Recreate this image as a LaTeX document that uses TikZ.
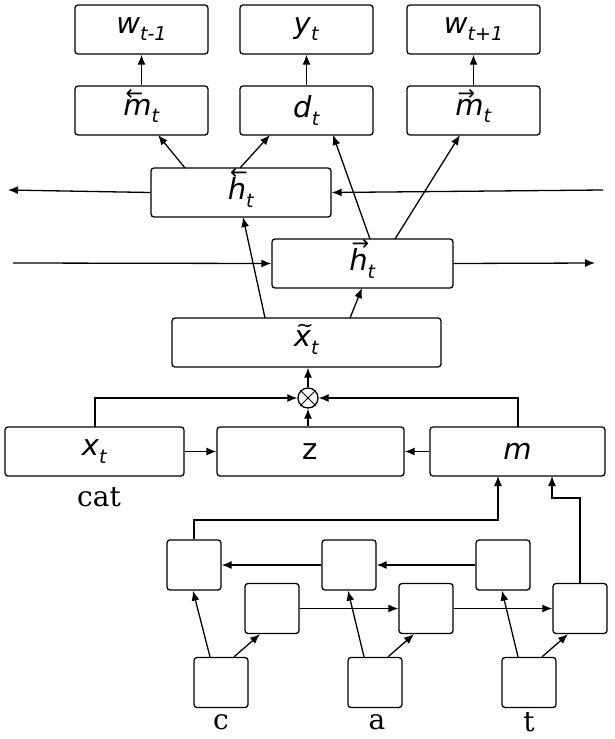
\documentclass[tikz,border=0pt]{standalone}
\usepackage{fontspec}
\setmainfont{DejaVu Sans}
\newfontfamily\serf{DejaVu Serif}
\usetikzlibrary{arrows.meta}
\newcommand{\sbx}[1]{\raisebox{-0.45ex}{\fontsize{19}{19}\selectfont\textit{#1}}}
\newcommand{\lab}[2]{\textit{#1}\sbx{#2}}
\newcommand{\ovl}[3]{\leavevmode\rlap{\hspace{0.08em}\raisebox{#3}[0pt][0pt]{\fontsize{21}{21}\selectfont #2}}\textit{#1}}
\begin{document}
\begin{tikzpicture}[x=1pt,y=-1pt,
  box/.style={draw,rounded corners=3pt,line width=1.3pt,inner sep=0pt,font=\fontsize{29}{29}\selectfont},
  sq/.style={draw,rounded corners=3pt,line width=1.3pt,minimum width=54pt,minimum height=50pt},
  ar/.style={-{Latex[length=10pt,width=8pt]},line width=1.3pt},
  lbl/.style={font=\serf\fontsize{28}{28}\selectfont}]
\useasboundingbox (0,0) rectangle (614,739);
\tikzset{bx/.style n args={4}{box,minimum width=#3-#1,minimum height=#4-#2}}
\node[bx={75}{5}{208}{54}] (w1) at (141.5,29.5) {\lab{w}{t-1}};
\node[bx={240}{5}{373}{54}] (y) at (306.5,29.5) {\lab{y}{t}};
\node[bx={407}{5}{540}{54}] (w2) at (473.5,29.5) {\lab{w}{t+1}};
\node[bx={75}{86}{208}{135}] (mb) at (141.5,110.5) {\ovl{m}{←}{0.5em}\sbx{t}};
\node[bx={240}{86}{373}{135}] (d) at (306.5,110.5) {\lab{d}{t}};
\node[bx={407}{86}{540}{135}] (mf) at (473.5,110.5) {\ovl{m}{→}{0.5em}\sbx{t}};
\node[bx={151}{168}{331}{217}] (hb) at (241,192.5) {\ovl{h}{←}{0.72em}\sbx{t}};
\node[bx={272}{239}{453}{288}] (hf) at (362.5,263.5) {\ovl{h}{→}{0.72em}\sbx{t}};
\node[bx={172}{318}{441}{367}] (xt) at (306.5,342.5) {\ovl{x}{\textasciitilde}{0.5em}\sbx{t}};
\node[draw,circle,line width=1.3pt,minimum size=20pt,inner sep=0pt] (o) at (308,398) {};
\draw[line width=1pt] (o.45)--(o.225) (o.135)--(o.315);
\node[bx={5}{427}{184}{476}] (x) at (94.5,451.5) {\lab{x}{t}};
\node[bx={217}{427}{404}{476}] (z) at (310.5,451.5) {z};
\node[bx={430}{427}{605}{476}] (m) at (517.5,451.5) {\textit{m}};
\node[lbl] (cat) at (99,497) {cat};
% char boxes
\node[sq] (b1) at (194,565) {}; \node[sq] (b2) at (349,565) {}; \node[sq] (b3) at (503,565) {};
\node[sq] (f1) at (272,608.5) {}; \node[sq] (f2) at (426,608.5) {}; \node[sq] (f3) at (580,608.5) {};
\node[sq] (i1) at (221,682.5) {}; \node[sq] (i2) at (375,682.5) {}; \node[sq] (i3) at (529,682.5) {};
\node[lbl] (lc) at (221,722) {c};
\node[lbl] (la) at (377,722) {a};
\node[lbl] (lt) at (529,722) {t};
% char arrows
\foreach \i in {1,2,3}{
  \draw[ar] ([xshift=-11pt]i\i.north) -- ([xshift=-1pt]b\i.south);
  \draw[ar] ([xshift=13pt]i\i.north) -- ([xshift=-12pt]f\i.south);
}
\draw[ar] (f1.east) -- (f2.west); \draw[ar] (f2.east) -- (f3.west);
\draw[ar] (b3.west) -- (b2.east); \draw[ar] (b2.west) -- (b1.east);
\draw[ar] (b1.north) |- (498,520) -- (498,476);
\draw[ar] (f3.north) |- (552,498) -- (552,476);
% middle
\draw[ar] (x.east) -- (z.west); \draw[ar] (m.west) -- (z.east);
\draw[ar] (95,427) |- (o.west);
\draw[ar] (518,427) |- (o.east);
\draw[ar] (z.north -| o) -- (o.south);
\draw[ar] (o.north) -- (o |- xt.south);
% h
\draw[ar] (265,318) -- (243,217);
\draw[ar] (350,318) -- (362,288);
\draw[ar] (370,239) -- (333,135);
\draw[ar] (395,239) -- (460,135);
\draw[ar] (185,168) -- (158,135);
\draw[ar] (240,168) -- (270,135);
\draw[ar] (hb.west) -- (8,190);
\draw[ar] (603,190) -- (hb.east);
\coordinate (lin) at (13,263); \coordinate (rout) at (595,263);
\draw[ar] (lin) -- (hf.west);
\draw[ar] (hf.east) -- (rout);
\draw[ar] (mb.north) -- (w1.south);
\draw[ar] (d.north) -- (y.south);
\draw[ar] (mf.north) -- (w2.south);
\end{tikzpicture}
\end{document}
